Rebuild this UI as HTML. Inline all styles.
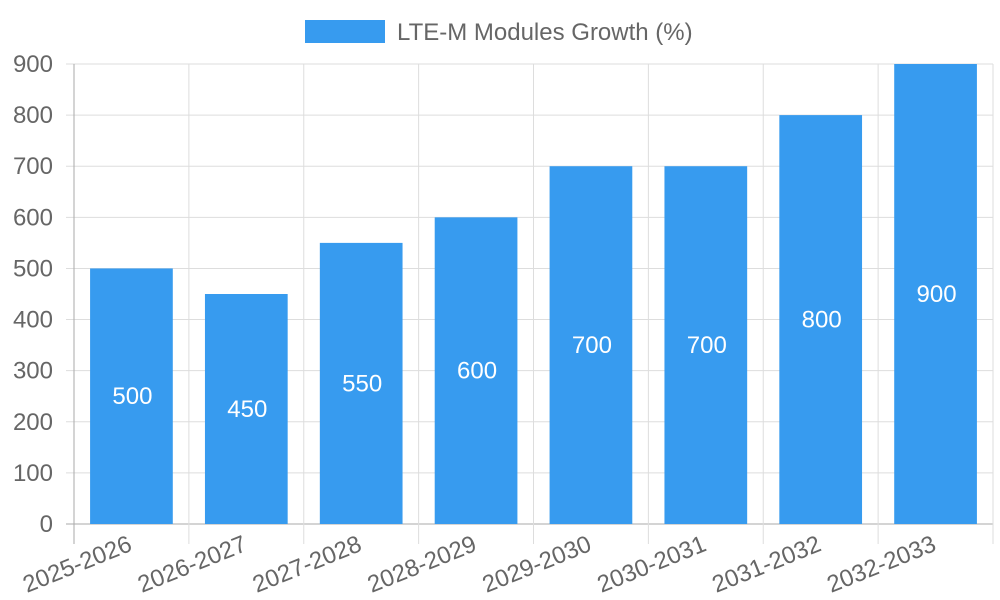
<!DOCTYPE html>
<html><head><meta charset="utf-8"><style>
body{margin:0;background:#fff;}
svg{display:block;font-family:"Liberation Sans",sans-serif;}
</style></head><body>
<svg id="c" width="1000" height="600">
<g>
<rect x="305" y="20" width="80" height="23" fill="#379bef"/>
<text x="397" y="40" font-size="24" fill="#666">LTE-M Modules Growth (%)</text>
</g>
</svg>
<script>
const categories=["2025-2026","2026-2027","2027-2028","2028-2029","2029-2030","2030-2031","2031-2032","2032-2033"];
const values=[500,450,550,600,700,700,800,900];
const yTicks=[0,100,200,300,400,500,600,700,800,900];
const svg=document.getElementById('c');
const NS='http://www.w3.org/2000/svg';
const L=74,R=993,T=64,B=524,yMax=900;
const cw=(R-L)/categories.length;
const y=v=>B-(v/yMax)*(B-T);
const x=i=>L+cw*i;
function mk(t,a){const e=document.createElementNS(NS,t);for(const k in a)e.setAttribute(k,a[k]);svg.appendChild(e);return e;}
yTicks.forEach(v=>{
 const g=mk('line',{x1:66,x2:R,y1:y(v),y2:y(v),stroke:v===0?'#aaa':'#ddd','stroke-width':1});
 
 
 const t=mk('text',{x:53,y:y(v)+8,'text-anchor':'end','font-size':24,fill:'#666'});
 t.textContent=v;
 
 
});
for(let i=0;i<=categories.length;i++){
 const g=mk('line',{x1:x(i),x2:x(i),y1:T,y2:B+20,stroke:i===0?'#aaa':'#ddd','stroke-width':1});
 
 
}
categories.forEach((c,i)=>{
 const cx=x(i)+cw/2,bw=cw*0.72;
 const r=mk('rect',{x:cx-bw/2,y:y(values[i]),width:bw,height:B-y(values[i]),fill:'#379bef'});
 
 
 const t=mk('text',{x:cx+1,y:(y(values[i])+B)/2+8,'text-anchor':'middle','font-size':24,fill:'#fff'});
 t.textContent=values[i];
 
 
 const l=mk('text',{x:0,y:0,'text-anchor':'end','font-size':24,fill:'#666',transform:`translate(${cx+2},${550}) rotate(-22)`});
 l.textContent=c;
 
 
});
</script>
</body></html>
